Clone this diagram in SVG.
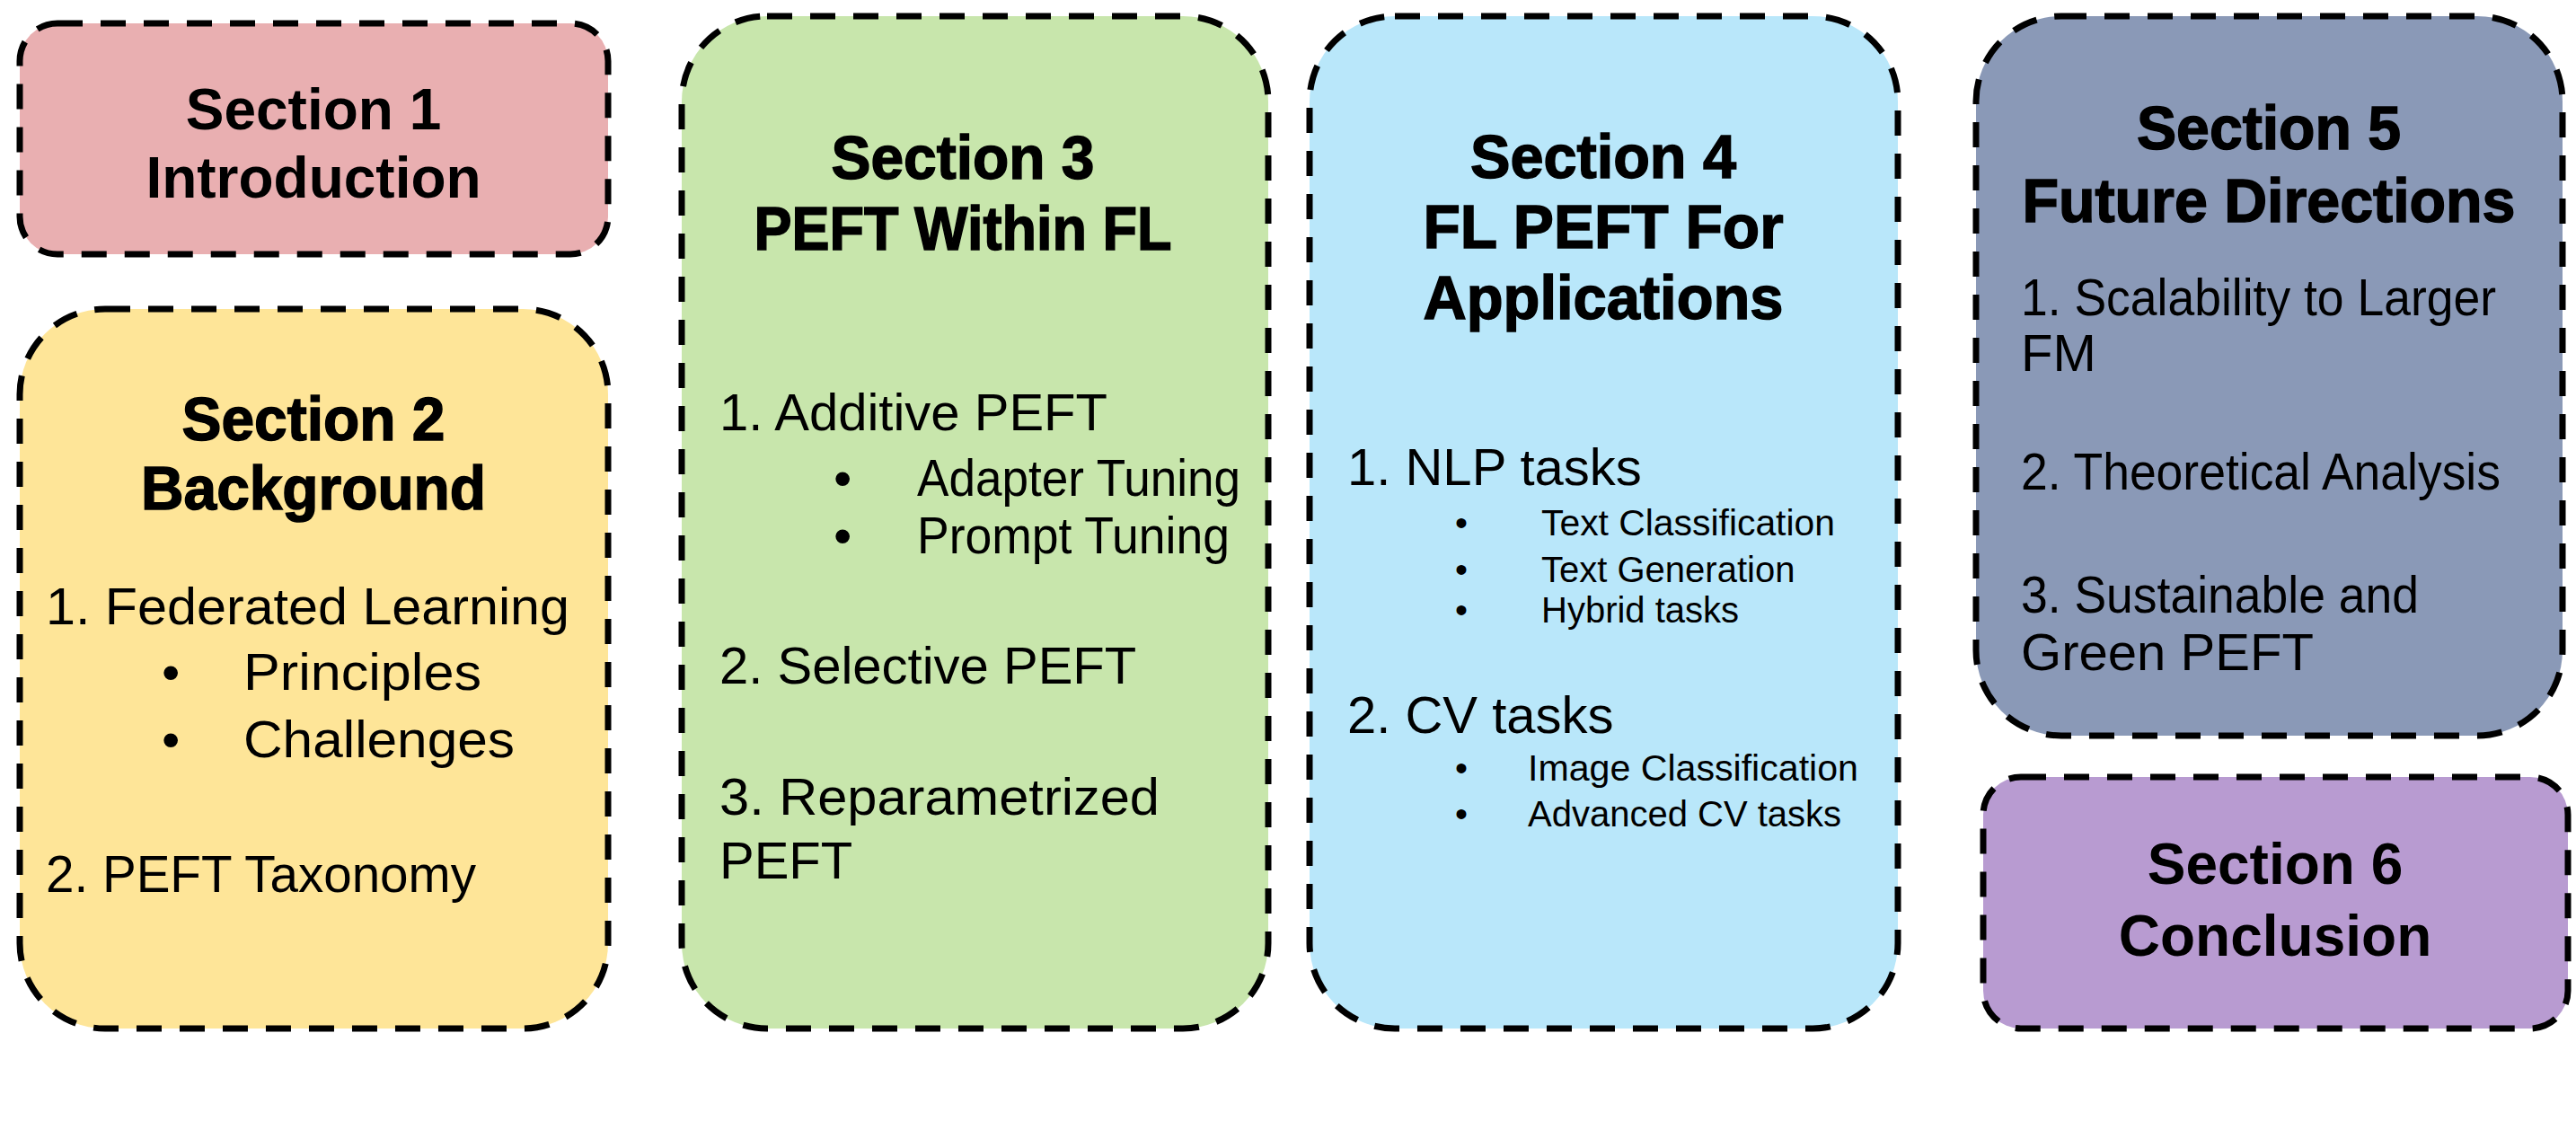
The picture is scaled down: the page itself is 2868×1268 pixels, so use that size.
<svg xmlns="http://www.w3.org/2000/svg" width="2868" height="1268" viewBox="0 0 2868 1268">
<style>
.box{stroke:#000;stroke-width:7;stroke-dasharray:28 20;}
.t{font-family:"Liberation Sans",Arial,sans-serif;font-weight:bold;fill:#000;stroke:#000;stroke-width:1.5;text-anchor:middle;font-size:68px;}
.n{font-family:"Liberation Sans",Arial,sans-serif;font-weight:bold;fill:#000;text-anchor:middle;font-size:64px;}
.b{font-family:"Liberation Sans",Arial,sans-serif;fill:#000;font-size:58px;}
.s{font-family:"Liberation Sans",Arial,sans-serif;fill:#000;font-size:40px;}
</style>
<rect width="2868" height="1268" fill="#fff"/>
<g id="section1">
<rect class="box" x="22" y="26" width="655" height="257" rx="42" fill="#E9AFB1"/>
<text class="n" x="349" y="144">Section 1</text>
<text class="n" x="349" y="220">Introduction</text>
</g>
<g id="section2">
<rect class="box" x="22" y="344" width="655" height="801" rx="95" fill="#FEE598"/>
<text class="t" x="349" y="490" textLength="293" lengthAdjust="spacingAndGlyphs">Section 2</text>
<text class="t" x="349" y="567" textLength="384" lengthAdjust="spacingAndGlyphs">Background</text>
<text class="b" x="51" y="695" textLength="583" lengthAdjust="spacingAndGlyphs">1. Federated Learning</text>
<text class="b" x="180" y="768">•</text>
<text class="b" x="271" y="768" textLength="265" lengthAdjust="spacingAndGlyphs">Principles</text>
<text class="b" x="180" y="843">•</text>
<text class="b" x="271" y="843" textLength="302" lengthAdjust="spacingAndGlyphs">Challenges</text>
<text class="b" x="51" y="993" textLength="479" lengthAdjust="spacingAndGlyphs">2. PEFT Taxonomy</text>
</g>
<g id="section3">
<rect class="box" x="759" y="18" width="653" height="1127" rx="95" fill="#C8E6AC"/>
<text class="t" x="1072" y="199" textLength="293" lengthAdjust="spacingAndGlyphs">Section 3</text>
<text class="t" x="1072" y="278" textLength="465" lengthAdjust="spacingAndGlyphs">PEFT Within FL</text>
<text class="b" x="801" y="479">1. Additive PEFT</text>
<text class="b" x="928" y="552">•</text>
<text class="b" x="1021" y="552" textLength="360" lengthAdjust="spacingAndGlyphs">Adapter Tuning</text>
<text class="b" x="928" y="616">•</text>
<text class="b" x="1021" y="616" textLength="348" lengthAdjust="spacingAndGlyphs">Prompt Tuning</text>
<text class="b" x="801" y="761">2. Selective PEFT</text>
<text class="b" x="801" y="907" textLength="490" lengthAdjust="spacingAndGlyphs">3. Reparametrized</text>
<text class="b" x="801" y="978">PEFT</text>
</g>
<g id="section4">
<rect class="box" x="1458" y="18" width="655" height="1127" rx="95" fill="#B9E7FA"/>
<text class="t" x="1785" y="198" textLength="296" lengthAdjust="spacingAndGlyphs">Section 4</text>
<text class="t" x="1785" y="276" textLength="401" lengthAdjust="spacingAndGlyphs">FL PEFT For</text>
<text class="t" x="1785" y="355" textLength="401" lengthAdjust="spacingAndGlyphs">Applications</text>
<text class="b" x="1500" y="540">1. NLP tasks</text>
<text class="s" x="1620" y="596">•</text>
<text class="s" x="1716" y="596" textLength="327" lengthAdjust="spacingAndGlyphs">Text Classification</text>
<text class="s" x="1620" y="648">•</text>
<text class="s" x="1716" y="648">Text Generation</text>
<text class="s" x="1620" y="693">•</text>
<text class="s" x="1716" y="693">Hybrid tasks</text>
<text class="b" x="1500" y="816">2. CV tasks</text>
<text class="s" x="1620" y="869">•</text>
<text class="s" x="1701" y="869" textLength="368" lengthAdjust="spacingAndGlyphs">Image Classification</text>
<text class="s" x="1620" y="920">•</text>
<text class="s" x="1701" y="920">Advanced CV tasks</text>
</g>
<g id="section5">
<rect class="box" x="2200" y="18" width="653" height="801" rx="95" fill="#8A99B7"/>
<text class="t" x="2526" y="166" textLength="294" lengthAdjust="spacingAndGlyphs">Section 5</text>
<text class="t" x="2526" y="247" textLength="549" lengthAdjust="spacingAndGlyphs">Future Directions</text>
<text class="b" x="2250" y="351" font-size="53" textLength="529" lengthAdjust="spacingAndGlyphs">1. Scalability to Larger</text>
<text class="b" x="2250" y="413" font-size="53">FM</text>
<text class="b" x="2250" y="545" font-size="53" textLength="534" lengthAdjust="spacingAndGlyphs">2. Theoretical Analysis</text>
<text class="b" x="2250" y="682" font-size="53" textLength="443" lengthAdjust="spacingAndGlyphs">3. Sustainable and</text>
<text class="b" x="2250" y="746" font-size="53" textLength="326" lengthAdjust="spacingAndGlyphs">Green PEFT</text>
</g>
<g id="section6">
<rect class="box" x="2208" y="865" width="651" height="280" rx="42" fill="#B89BD1"/>
<text class="n" x="2533" y="984">Section 6</text>
<text class="n" x="2533" y="1064">Conclusion</text>
</g>
<g id="connectors"></g>
</svg>
